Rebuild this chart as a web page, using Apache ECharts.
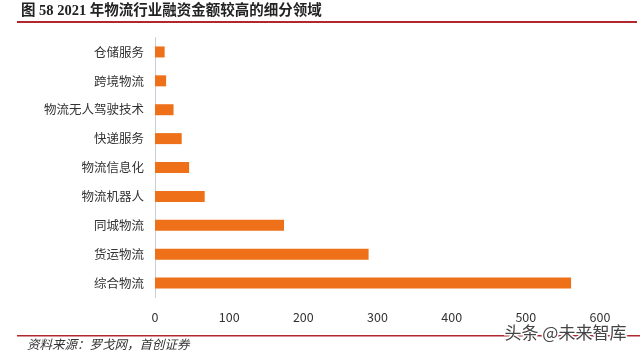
<!DOCTYPE html>
<html>
<head>
<meta charset="utf-8">
<script src="https://cdn.jsdelivr.net/npm/echarts@6/dist/echarts.min.js"></script>
<style>
html,body{margin:0;padding:0;background:#fff;}
#c{width:640px;height:355px;}
</style>
</head>
<body>
<div id="c"></div>
<script>
const categories = ['仓储服务','跨境物流','物流无人驾驶技术','快递服务','物流信息化','物流机器人','同城物流','货运物流','综合物流'];
const values = [13, 15, 25, 36, 46, 67, 174, 288, 561];
const xTicks = [0, 100, 200, 300, 400, 500, 600];

const chart = echarts.init(document.getElementById('c'), null, {renderer:'canvas'});
const FONT = '"Noto Sans CJK SC", "Noto Sans", sans-serif';
chart.setOption({
  animation: false,
  backgroundColor: '#fff',
  grid: {left: 155, right: 40, top: 37.5, bottom: 57.5},
  xAxis: {
    type: 'value',
    min: xTicks[0], max: xTicks[xTicks.length-1], interval: 100,
    axisLine: {show: false},
    axisTick: {show: false},
    splitLine: {show: false},
    axisLabel: {color: '#333', fontSize: 12.5, fontFamily: FONT, margin: 13}
  },
  yAxis: {
    type: 'category',
    data: categories,
    inverse: true,
    axisLine: {show: true, lineStyle: {color: '#c8ced8', width: 1}},
    axisTick: {show: false},
    axisLabel: {color: '#333', fontSize: 12.5, fontFamily: FONT, margin: 11}
  },
  series: [{
    type: 'bar',
    data: values,
    barWidth: 11,
    itemStyle: {color: '#EE7018'}
  }],
  graphic: [
    {type: 'text', left: 21, top: 4, style: {text: '图 58 2021 年物流行业融资金额较高的细分领域', font: 'bold 14.5px "Liberation Serif", "Noto Sans CJK SC", serif', fill: '#222'}},
    {type: 'rect', shape: {x: 17, y: 21, width: 620, height: 2}, style: {fill: '#B0282E'}},
    {type: 'rect', shape: {x: 17, y: 335, width: 623, height: 1.5}, style: {fill: '#B0282E'}},
    {type: 'text', left: 27, top: 338, style: {text: '资料来源：罗戈网，首创证券', font: 'italic 12.5px ' + FONT, fill: '#333'}},
    {type: 'text', left: 503, top: 323, z: 100, style: {text: '头条 @未来智库', font: '17px ' + FONT, fill: '#444', stroke: '#fff', lineWidth: 3}}
  ]
});
</script>
</body>
</html>
